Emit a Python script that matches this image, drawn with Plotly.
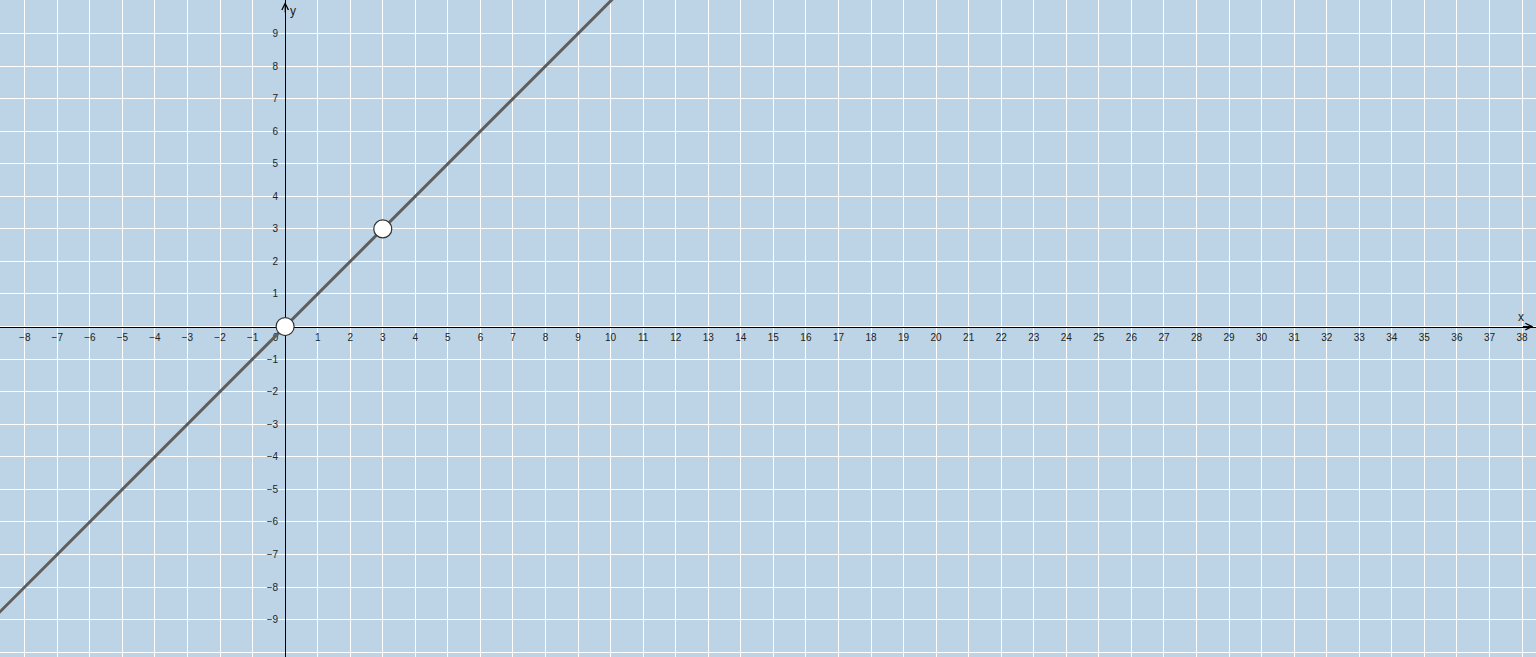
import plotly.graph_objects as go

# ---------------------------
# DATA
# ---------------------------
# visible window, in graph units
X_RANGE = [-8.76, 38.43]
Y_RANGE = [-10.15, 10.03]

# the straight line y = x, ends past both edges of the view
line_x = [-10, 12]
line_y = [-10, 12]

# the two open points sitting on the line
point_x = [0, 3]
point_y = [0, 3]

# tick positions / labels
x_ticks = list(range(-8, 39))
y_ticks = list(range(-10, 11))

NBSP = "\u00a0"


def label(v):
    return str(v).replace("-", "\u2212")


# the origin "0" is nudged left of the y axis, like geogebra does
x_text = [("0" + NBSP * 7) if v == 0 else label(v) for v in x_ticks]
y_text = ["" if v in (0, -10, 10) else label(v) for v in y_ticks]

W, H = 1536, 657
BG = "#bcd4e6"
LABEL_FONT = dict(family="Liberation Sans, Arial, sans-serif", size=10, color="#222222")

# where the axes cross, as paper fractions
x_axis_pos = (0 - Y_RANGE[0]) / (Y_RANGE[1] - Y_RANGE[0])
y_axis_pos = (0 - X_RANGE[0]) / (X_RANGE[1] - X_RANGE[0])

# ---------------------------
# FIGURE
# ---------------------------
fig = go.Figure()

fig.add_trace(go.Scatter(
    x=line_x, y=line_y,
    mode="lines",
    line=dict(color="#5e5e5e", width=3),
    hoverinfo="skip",
))

fig.add_trace(go.Scatter(
    x=point_x, y=point_y,
    mode="markers",
    marker=dict(size=18, color="white", line=dict(color="#333333", width=1.2)),
    hoverinfo="x+y",
))

# axis arrows + names
fig.add_annotation(x=X_RANGE[1] - 0.08, y=0, ax=-12, ay=0, text="",
                   showarrow=True, arrowhead=5, arrowsize=1.3, arrowwidth=1, arrowcolor="black")
fig.add_annotation(x=0, y=Y_RANGE[1] - 0.06, ax=0, ay=12, text="",
                   showarrow=True, arrowhead=5, arrowsize=1.3, arrowwidth=1, arrowcolor="black")
fig.add_annotation(x=X_RANGE[1], y=0, text="x", showarrow=False,
                   xanchor="right", yanchor="bottom", xshift=-10, yshift=1,
                   font=dict(family="Liberation Sans, Arial, sans-serif", size=12, color="#222222"))
fig.add_annotation(x=0, y=Y_RANGE[1], text="y", showarrow=False,
                   xanchor="left", yanchor="top", xshift=3, yshift=-2,
                   font=dict(family="Liberation Sans, Arial, sans-serif", size=12, color="#222222"))

fig.update_layout(
    width=W, height=H,
    margin=dict(l=0, r=0, t=0, b=0),
    plot_bgcolor=BG,
    paper_bgcolor=BG,
    showlegend=False,
    xaxis=dict(
        range=X_RANGE,
        tickvals=x_ticks, ticktext=x_text,
        showgrid=True, gridcolor="white", gridwidth=1,
        zeroline=False,
        showline=True, linecolor="black", linewidth=1,
        anchor="free", position=x_axis_pos,
        ticks="", ticklabelstandoff=1,
        tickfont=LABEL_FONT,
        layer="below traces",
        fixedrange=True,
    ),
    yaxis=dict(
        range=Y_RANGE,
        tickvals=y_ticks, ticktext=y_text,
        showgrid=True, gridcolor="white", gridwidth=1,
        zeroline=False,
        showline=True, linecolor="black", linewidth=1,
        anchor="free", position=y_axis_pos,
        ticks="", ticklabelstandoff=5,
        tickfont=LABEL_FONT,
        layer="below traces",
        fixedrange=True,
    ),
)

fig.write_html("out.html", config={"displayModeBar": False},
               post_script="document.body.style.margin='0';document.body.style.overflow='hidden';")
